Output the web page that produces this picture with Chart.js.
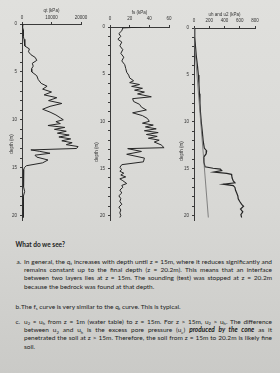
<!DOCTYPE html>
<html><head><meta charset="utf-8">
<script src="https://cdn.jsdelivr.net/npm/chart.js@4.4.0/dist/chart.umd.min.js"></script>
<style>
html,body{margin:0;padding:0}
body{width:280px;height:373px;overflow:hidden;position:relative;background:linear-gradient(to bottom,#e0e0dd 0%,#d8d8d5 55%,#cacac7 100%);font-family:Lato,"Liberation Sans",sans-serif;color:#1c1c1c}
canvas{position:absolute;top:0}
.t{position:absolute;left:24px;width:248px;font-size:6.5px;line-height:8.2px}
.t div{text-align:justify;text-align-last:justify;white-space:nowrap}
.t div.last{text-align-last:left}
.lab{position:absolute;font-size:6.5px;line-height:8.2px}
sub{font-size:4.2px;vertical-align:baseline;position:relative;top:1.3px;line-height:0}
</style></head><body>
<canvas id="c1" width="90" height="226" style="left:0"></canvas>
<canvas id="c2" width="90" height="226" style="left:88px"></canvas>
<canvas id="c3" width="92" height="226" style="left:172px"></canvas>

<div class="lab" style="left:15.5px;top:241px;font-weight:bold;font-size:6.5px">What do we see?</div>

<div class="lab" style="left:16.5px;top:258px">a.</div>
<div class="t" style="top:258px">
<div>In general, the q<sub>t</sub> increases with depth until z = 15m, where it reduces significantly and</div>
<div>remains constant up to the final depth (z = 20.2m). This means that an interface</div>
<div>between two layers lies at z = 15m. The sounding (test) was stopped at z = 20.2m</div>
<div class="last">because the bedrock was found at that depth.</div>
</div>

<div class="lab" style="left:15.5px;top:302.5px">b.</div>
<div class="t" style="top:302.5px;left:21px">
<div class="last">The f<sub>s</sub> curve is very similar to the q<sub>t</sub> curve. This is typical.</div>
</div>

<div class="lab" style="left:15.5px;top:318px">c.</div>
<div class="t" style="top:318px">
<div>u<sub>2</sub> ≈ u<sub>h</sub> from z = 1m (water table) to z = 15m. For z &gt; 15m, u<sub>2</sub> &gt; u<sub>h</sub>. The difference</div>
<div>between u<sub>2</sub> and u<sub>h</sub> is the excess pore pressure (u<sub>e</sub>) <b><i>produced by the cone</i></b> as it</div>
<div>penetrated the soil at z &gt; 15m. Therefore, the soil from z = 15m to 20.2m is likely fine</div>
<div class="last">soil.</div>
</div>

<script>
// ---- data (depth in m, values in kPa) ----
const qtDepth = [0,0.3,0.6,1.0,1.3,1.6,2.0,2.3,2.6,2.9,3.2,3.5,3.8,4.1,4.4,4.7,
  5.0,5.4,5.8,6.2,6.5,6.8,7.1,7.4,7.7,8.0,8.3,8.6,8.9,9.2,9.5,9.8,
  10.0,10.2,10.4,10.6,10.8,11.0,11.2,11.4,11.6,11.8,12.0,12.2,12.4,12.6,12.8,13.0,13.15,
  13.3,13.5,13.7,13.9,14.2,14.5,14.8,15.0,15.2,15.6,16.0,16.5,17.0,17.5,18.0,18.5,19.0,19.5,20.0,20.2];
const qtValue = [300,200,400,500,400,700,1000,900,2500,2200,3000,4500,5000,3500,3800,3200,
  3300,5000,5500,6500,8500,7000,10000,7500,11800,9000,13500,9500,7000,9500,11500,13000,
  14000,11500,13000,8800,14500,11000,15000,12000,16000,12500,16500,13500,17000,15000,19000,18500,3000,
  6000,9500,4400,5000,8800,7000,1500,800,600,500,500,600,500,900,450,500,400,500,450,400];

const fsDepth = [0,0.1,0.4,0.7,1.0,1.3,1.6,2.0,2.4,2.8,3.2,3.6,4.0,4.4,4.8,5.1,5.4,5.7,5.9,6.1,
  6.3,6.5,6.7,6.9,7.1,7.4,7.6,7.9,8.2,8.5,8.8,9.1,9.4,9.7,10.0,10.2,10.4,10.6,10.8,11.0,
  11.2,11.4,11.6,11.8,12.0,12.2,12.5,12.8,12.9,13.2,13.5,13.9,14.3,14.6,14.9,15.1,15.3,15.5,15.7,15.9,
  16.1,16.3,16.6,16.8,17.0,17.3,17.6,17.9,18.2,18.5,18.8,19.1,19.4,19.7,20.0,20.2];
const fsValue = [32,13,12,9,11,8,12,10,13,11,14,12,15,16,17,19,20,24,20,30,
  22,33,25,35,28,42,23,24,30,32,37,23,33,38,40,33,44,36,47,35,
  49,37,48,39,50,45,52,55,18,32,17,35,34,12,10,12,10,14,11,16,
  10,13,17,12,13,10,12,9,11,10,12,9,11,10,11,10];

const u2Depth = [0,1,2,3,4,5,6,7,8,9,10,11,12,12.8,13.1,13.4,13.8,14.3,14.8,14.95,
  15.05,15.2,15.35,15.5,15.6,15.75,16.0,16.3,16.5,16.65,16.8,17.0,17.3,17.6,17.9,18.2,18.5,18.8,19.0,19.3,
  19.6,19.9,20.2];
const u2Value = [5,10,20,30,45,57,65,72,78,85,95,108,120,135,166,160,125,130,145,250,
  345,363,260,430,490,495,500,515,537,384,515,537,545,560,575,580,600,625,650,610,
  640,615,625];

const uhDepth = [0,1,20.2];
const uhValue = [0,0,188];

// ---- tick labels ----
const qtTicks = [0,10000,20000];
const fsTicks = [0,20,40,60];
const uTicks = [0,200,400,600,800];
const depthTicks = [0,5,10,15,20];

function pts(d,v){return d.map((z,i)=>({x:v[i],y:z}));}
const FONT = '"Liberation Sans", Arial, sans-serif';
const AX = '#3a3a3a';

const depthTitle = {
  id:'depthTitle',
  afterDraw(chart,args,o){
    const ctx=chart.ctx;
    ctx.save();
    ctx.translate(o.x,o.y);
    ctx.rotate(-Math.PI/2);
    ctx.font='4.5px '+FONT;
    ctx.fillStyle='#333';
    ctx.textAlign='center';ctx.textBaseline='middle';
    ctx.fillText('depth (m)',0,0);
    ctx.restore();
  }
};

function make(id,datasets,xTitle,xTicks,axisTop,titlePad,tickPad,lx,ly){
  return new Chart(document.getElementById(id),{
    type:'scatter',
    data:{datasets},
    plugins:[depthTitle],
    options:{
      responsive:false,animation:false,events:[],
      layout:{padding:{left:0,right:9,top:0,bottom:3}},
      plugins:{legend:{display:false},tooltip:{enabled:false},depthTitle:{x:lx,y:ly}},
      scales:{
        x:{type:'linear',position:'top',min:xTicks[0],max:xTicks[xTicks.length-1],
          afterFit(s){s.height=axisTop;},
          afterBuildTicks(s){s.ticks=xTicks.map(v=>({value:v}));},
          ticks:{font:{size:4.5,family:FONT},color:'#333',padding:tickPad,maxRotation:0,autoSkip:false,
            callback:v=>String(v)},
          grid:{drawOnChartArea:false,tickLength:2,color:AX},
          border:{color:AX,width:1},
          title:{display:true,text:xTitle,font:{size:4.5,family:FONT},color:'#333',padding:{top:titlePad,bottom:0}}},
        y:{type:'linear',reverse:true,min:0,max:20.5,
          afterFit(s){s.width=22;},
          afterBuildTicks(s){s.ticks=Array.from({length:21},(_,i)=>({value:i}));},
          ticks:{autoSkip:false,font:{size:4.5,family:FONT},color:'#333',padding:3,
            callback:v=>depthTicks.includes(v)?String(v):''},
          grid:{drawOnChartArea:false,tickLength:2,color:AX},
          border:{color:AX,width:1}}
      }
    }
  });
}

const line=(d,c,w)=>({data:d,showLine:true,borderColor:c,borderWidth:w,pointRadius:0,fill:false,tension:0});

make('c1',[line(pts(qtDepth,qtValue),'#262626',1)],'qt (kPa)',qtTicks,24,8.3,1.3,12,144);
make('c2',[line(pts(fsDepth,fsValue),'#262626',1)],'fs (kPa)',fsTicks,27,10.3,3.3,9,152);
make('c3',[line(pts(uhDepth,uhValue),'#6a6a6a',0.8),line(pts(u2Depth,u2Value),'#262626',1.2)],'uh and u2 (kPa)',uTicks,28,12.3,2.3,10,151);
</script>
</body></html>
